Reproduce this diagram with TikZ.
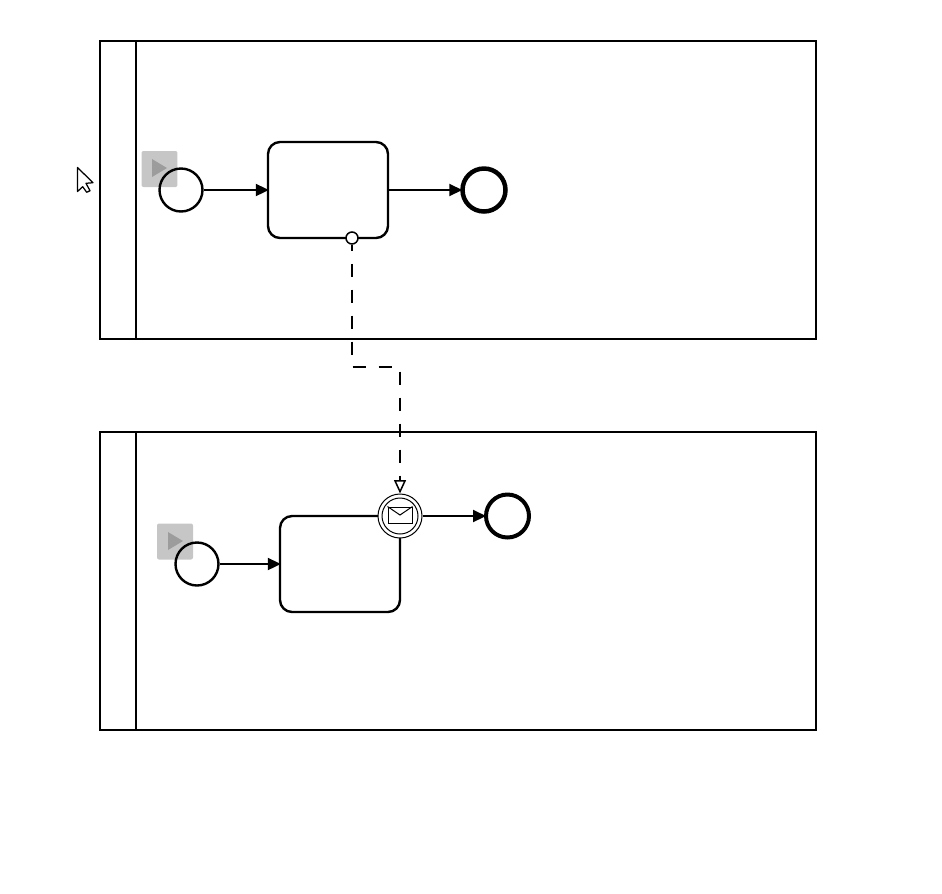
\documentclass[tikz,border=0pt]{standalone}
\usetikzlibrary{arrows.meta}
\definecolor{playbox}{HTML}{C6C6C6}
\definecolor{playtip}{HTML}{9C9C9C}
\tikzset{
  base/.style={draw,line width=0.048cm,inner sep=0pt},
  head/.style={base,minimum width=0.72cm,minimum height=5.96cm},
  pool/.style={base,minimum width=13.6cm,minimum height=5.96cm},
  task/.style={base,rounded corners=0.24cm,minimum width=2.4cm,minimum height=1.92cm},
  start/.style={base,circle,minimum size=0.86cm},
  finish/.style={base,circle,minimum size=0.86cm,line width=0.09cm},
  boundary/.style={base,circle,fill=white,minimum size=0.24cm,line width=0.03cm},
  catch/.style={draw,circle,fill=white,inner sep=0pt,line width=0.02cm},
  mail/.style={draw,inner sep=0pt,line width=0.02cm,minimum width=0.48cm,minimum height=0.32cm},
  play/.style={fill=playbox,rounded corners=0.04cm,inner sep=0pt,minimum size=0.72cm},
  flow/.style={line width=0.04cm,shorten >=-0.04cm,-{Triangle[length=0.26cm,width=0.24cm]}},
  message/.style={line width=0.04cm,dash pattern=on 0.26cm off 0.26cm,dash phase=0.14cm},
}
\begin{document}
\begin{tikzpicture}[x=0.02cm,y=-0.02cm]
\useasboundingbox (0,0) rectangle (942,893);
%Pools
\node[head] (head1) at (118,190) {};
\node[pool] (pool1) at (476,190) {};
\node[head] (head2) at (118,581) {};
\node[pool] (pool2) at (476,581) {};

%Play icons
\node[play] (play1) at (159.5,169) {};
\node[play] (play2) at (175,541.5) {};
\fill[playtip] (152,159) -- (167,168) -- (152,177) -- cycle;
\fill[playtip] (168,532) -- (183,541) -- (168,550) -- cycle;

%Upper process
\node[start] (start1) at (181,190) {};
\node[task] (task1) at (328,190) {};
\node[finish] (end1) at (484,190) {};
\node[boundary] (bound1) at (352,238) {};
\draw[flow] (start1) -- (task1);
\draw[flow] (task1) -- (end1);

%Lower process
\node[start] (start2) at (197,564) {};
\node[task] (task2) at (340,564) {};
\node[catch,minimum size=0.88cm] (catch2) at (400,516) {};
\node[catch,minimum size=0.72cm] (catchin2) at (400,516) {};
\node[mail] (mail2) at (400,515) {};
\draw[line width=0.02cm] (mail2.north west) -- (400,515) -- (mail2.north east);
\node[finish,line width=0.08cm] (end2) at (507.5,516) {};
\draw[flow] (start2) -- (task2);
\draw[flow] (catch2) -- (end2);

%Message
\coordinate (bend1) at (352,367);
\coordinate (bend2) at (400,367);
\draw[message] (bound1.south) -- (bend1) -- (bend2) -- (catch2.north);
\draw[line width=0.03cm,-{Triangle[open,length=0.27cm,width=0.24cm,fill=white]}] (400,480) -- (catch2.north);

%Cursor
\draw[fill=white,line width=0.025cm,line join=round] (77.5,167.5) -- (77.5,191.5) -- (82.7,186.7) -- (86.7,192.3) -- (90,190.7) -- (86,183.3) -- (93,182.7) -- cycle;
\end{tikzpicture}
\end{document}
